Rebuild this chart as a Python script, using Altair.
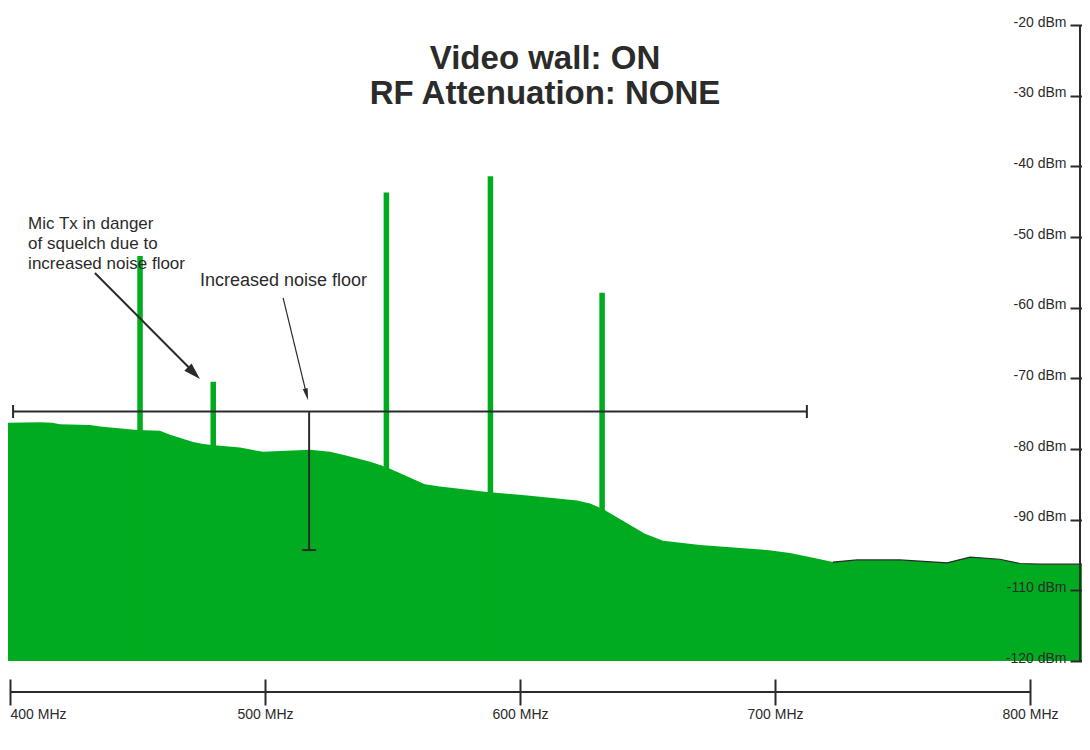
import altair as alt
import pandas as pd

# ---------------- data ----------------
# noise-floor envelope of the spectrum trace
floor_mhz = [396.1, 411.8, 416.5, 419.6, 431.4, 435.3, 449.8, 458.8, 462.8, 471.8,
             475.7, 481.2, 490.2, 499.2, 517.6, 525.5, 531.4, 541.2, 546.3, 549.0,
             562.7, 568.6, 587.1, 603.9, 622.4, 627.5, 632.5, 649.0, 656.1, 670.6,
             696.9, 705.9, 714.9, 722.7, 732.2, 749.0, 767.5, 776.5, 788.2, 796.1,
             803.9, 823.5]
floor_dbm = [-76.3, -76.2, -76.3, -76.5, -76.6, -76.8, -77.3, -77.4, -78.0, -79.0,
             -79.3, -79.5, -79.8, -80.4, -80.1, -80.4, -80.9, -81.8, -82.4, -82.8,
             -85.0, -85.3, -86.1, -86.6, -87.3, -87.7, -88.5, -92.0, -93.0, -93.6,
             -94.3, -94.7, -95.4, -96.0, -95.7, -95.7, -96.1, -95.3, -95.6, -96.2,
             -96.3, -96.3]
floor_base = -110

# carrier spikes (frequency, peak level)
spike_mhz = [451.0, 479.7, 547.6, 588.4, 632.2]
spike_dbm = [-52.7, -70.5, -43.7, -41.4, -57.9]

# axes
x_tick_values = [400, 500, 600, 700, 800]
x_tick_labels = ["400 MHz", "500 MHz", "600 MHz", "700 MHz", "800 MHz"]
y_tick_values = [-20, -30, -40, -50, -60, -70, -80, -90, -100, -110]
y_tick_labels = ["-20 dBm", "-30 dBm", "-40 dBm", "-50 dBm", "-60 dBm", "-70 dBm",
                 "-80 dBm", "-90 dBm", "-110 dBm", "-120 dBm"]

# texts
title_lines = ["Video wall: ON", "RF Attenuation: NONE"]
mic_note = ["Mic Tx in danger", "of squelch due to", "increased noise floor"]
mic_note_pos = [407.1, -48.9]
noise_note = "Increased noise floor"
noise_note_pos = [474.5, -56.9]

# noise-floor bracket
bracket_x = [401.2, 712.5]
bracket_dbm = -74.7
drop_x = 517.3
drop_bottom = -94.3

# annotation arrows (start, end of shaft, tip)
arrow_start_x = [433.3, 507.1]
arrow_start_y = [-55.1, -58.6]
arrow_end_x = [472.2, 516.4]
arrow_end_y = [-69.2, -72.4]
arrow_tip_x = [474.5, 516.9]
arrow_tip_y = [-70.1, -73.1]

# ---------------- style ----------------
GREEN = "#00AB1F"
INK = "#2b2b2b"
FONT = "Liberation Sans"
arrow_widths = [2.0, 1.2]
arrow_angles = [135, 166]
arrow_sizes = [289, 144]
arrow_shapes = ["M0,0L0.6,2L-0.6,2Z", "M0,0L0.42,2L-0.42,2Z"]


def label_expr(values, labels):
    expr = "''"
    for v, l in reversed(list(zip(values, labels))):
        expr = f"datum.value == {v} ? '{l}' : ({expr})"
    return expr


xs = alt.Scale(domain=[x_tick_values[0], x_tick_values[-1]], nice=False, zero=False)
ys = alt.Scale(domain=[y_tick_values[-1], y_tick_values[0]], nice=False, zero=False)

x_axis = alt.Axis(
    values=x_tick_values, labelExpr=label_expr(x_tick_values, x_tick_labels),
    orient="bottom", offset=18, tickSize=26, tickWidth=2, tickColor=INK,
    domain=False, grid=False, title=None, labelFlush=False, labelOverlap=False,
    labelFont=FONT, labelFontSize=14, labelColor=INK, labelPadding=2,
    labelBaseline="top",
    labelAlign={"condition": {"test": f"datum.value == {x_tick_values[0]}", "value": "left"},
                "value": "center"},
)
y_axis = alt.Axis(
    values=y_tick_values, labelExpr=label_expr(y_tick_values, y_tick_labels),
    orient="right", offset=40, tickSize=20, tickWidth=2, tickColor=INK,
    domain=False, grid=False, title=None, labelFlush=False, labelOverlap=False,
    labelFont=FONT, labelFontSize=14, labelColor=INK, labelPadding=-24,
    labelAlign="right", labelBaseline="middle", labelOffset=-3, zindex=2,
)


def X(field):
    return alt.X(field, type="quantitative", scale=xs, axis=x_axis)


def Y(field):
    return alt.Y(field, type="quantitative", scale=ys, axis=y_axis)


floor_df = pd.DataFrame({"mhz": floor_mhz, "dbm": floor_dbm})
spike_df = pd.DataFrame({"mhz": spike_mhz, "dbm": spike_dbm})

area = alt.Chart(floor_df).mark_area(color=GREEN, opacity=1).encode(
    x=X("mhz"), y=Y("dbm"), y2=alt.datum(floor_base),
)

outline = alt.Chart(floor_df).transform_filter(alt.datum.mhz >= 722).mark_line(
    color=INK, strokeWidth=1.2
).encode(x=X("mhz"), y=Y("dbm"))

spikes = alt.Chart(spike_df).mark_rule(color=GREEN, strokeWidth=5.5).encode(
    x=X("mhz"), y=Y("dbm"), y2=alt.datum(floor_base),
)

# axis lines
y_domain_df = pd.DataFrame({"a": [y_tick_values[0]], "b": [y_tick_values[-1]]})
y_domain = alt.Chart(y_domain_df).mark_rule(color=INK, strokeWidth=2).encode(
    x=alt.value(1070), y=Y("a"), y2="b:Q",
)
x_domain_df = pd.DataFrame({"a": [x_tick_values[0]], "b": [x_tick_values[-1]]})
x_domain = alt.Chart(x_domain_df).mark_rule(color=INK, strokeWidth=2).encode(
    y=alt.value(667), x=X("a"), x2="b:Q",
)

# bracket
bracket_df = pd.DataFrame({
    "x1": [bracket_x[0], drop_x], "x2": [bracket_x[1], drop_x],
    "y1": [bracket_dbm, bracket_dbm], "y2": [bracket_dbm, drop_bottom],
})
bracket = alt.Chart(bracket_df).mark_rule(color=INK, strokeWidth=2).encode(
    x=X("x1"), x2="x2:Q", y=Y("y1"), y2="y2:Q",
)
caps_v = alt.Chart(pd.DataFrame({"x": bracket_x, "y": [bracket_dbm] * 2})).mark_tick(
    orient="vertical", size=13, thickness=2, color=INK, opacity=1
).encode(x=X("x"), y=Y("y"))
cap_h = alt.Chart(pd.DataFrame({"x": [drop_x], "y": [drop_bottom]})).mark_tick(
    orient="horizontal", size=14, thickness=2, color=INK, opacity=1
).encode(x=X("x"), y=Y("y"))

# arrows
arrow_df = pd.DataFrame({
    "x1": arrow_start_x, "y1": arrow_start_y, "x2": arrow_end_x, "y2": arrow_end_y,
    "tx": arrow_tip_x, "ty": arrow_tip_y, "w": arrow_widths,
    "ang": arrow_angles, "sz": arrow_sizes, "shp": arrow_shapes,
})
shafts = alt.Chart(arrow_df).mark_rule(color=INK).encode(
    x=X("x1"), x2="x2:Q", y=Y("y1"), y2="y2:Q",
    strokeWidth=alt.StrokeWidth("w:Q", scale=None, legend=None),
)
heads = alt.Chart(arrow_df).mark_point(filled=True, opacity=1, color=INK, strokeWidth=0).encode(
    x=X("tx"), y=Y("ty"),
    shape=alt.Shape("shp:N", scale=None, legend=None),
    size=alt.Size("sz:Q", scale=None, legend=None),
    angle=alt.Angle("ang:Q", scale=None, legend=None),
)

# annotation texts
mic_df = pd.DataFrame({"x": [mic_note_pos[0]], "y": [mic_note_pos[1]], "t": ["\n".join(mic_note)]})
mic_text = alt.Chart(mic_df).mark_text(
    align="left", baseline="alphabetic", lineBreak="\n", lineHeight=20,
    font=FONT, fontSize=17, color=INK
).encode(x=X("x"), y=Y("y"), text="t:N")

noise_df = pd.DataFrame({"x": [noise_note_pos[0]], "y": [noise_note_pos[1]], "t": [noise_note]})
noise_text = alt.Chart(noise_df).mark_text(
    align="left", baseline="alphabetic", font=FONT, fontSize=18, color=INK
).encode(x=X("x"), y=Y("y"), text="t:N")

chart = alt.layer(
    area, spikes, outline, y_domain, x_domain, bracket, caps_v, cap_h,
    shafts, heads, mic_text, noise_text,
).properties(
    width=1020,
    height=636,
    autosize=alt.AutoSizeParams(type="none"),
    padding={"left": 2, "top": 17, "right": 52, "bottom": 81},
    background="white",
    title=alt.Title(
        title_lines, font=FONT, fontSize=33, fontWeight="bold", color=INK,
        lineHeight=35, anchor="middle", offset=-96, dx=25,
    ),
).configure_view(strokeWidth=0)

chart.save("out.html", embed_options={"renderer": "svg", "actions": False})
